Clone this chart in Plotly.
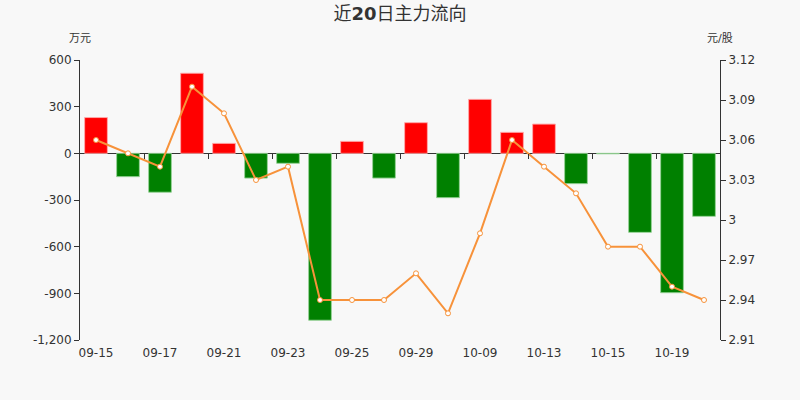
import plotly.graph_objects as go

dates = ["09-15", "09-16", "09-17", "09-18", "09-21", "09-22", "09-23", "09-24", "09-25", "09-28",
         "09-29", "09-30", "10-09", "10-12", "10-13", "10-14", "10-15", "10-16", "10-19", "10-20"]
main_flow = [230, -150, -250, 515, 64, -159, -64, -1073, 77, -159,
             197, -285, 347, 135, 188, -195, -3, -508, -896, -405]
price = [3.06, 3.05, 3.04, 3.10, 3.08, 3.03, 3.04, 2.94, 2.94, 2.94,
         2.96, 2.93, 2.99, 3.06, 3.04, 3.02, 2.98, 2.98, 2.95, 2.94]

y1_ticks = [600, 300, 0, -300, -600, -900, -1200]
y1_text = ["600", "300", "0", "-300", "-600", "-900", "-1,200"]
y2_ticks = [3.12, 3.09, 3.06, 3.03, 3.00, 2.97, 2.94, 2.91]
y2_text = ["3.12", "3.09", "3.06", "3.03", "3", "2.97", "2.94", "2.91"]

FONT = "DejaVu Sans, Noto Sans CJK SC, sans-serif"
AX = "#333333"

bar_colors = ["#ff0000" if v >= 0 else "#008000" for v in main_flow]
bar_lines = ["rgba(255,170,170,0.9)" if v >= 0 else "rgba(150,210,150,0.9)" for v in main_flow]

n = len(dates)
y1min, y1max = min(y1_ticks), max(y1_ticks)
zero_pos = (0 - y1min) / (y1max - y1min)

fig = go.Figure()
fig.add_trace(go.Bar(x=dates, y=main_flow, marker=dict(color=bar_colors, line=dict(color=bar_lines, width=1)),
                     yaxis="y", xaxis="x", showlegend=False))
fig.add_trace(go.Scatter(x=dates, y=price, yaxis="y2", xaxis="x", mode="lines+markers",
                         line=dict(color="#f7923a", width=2),
                         marker=dict(symbol="circle", size=5, color="#ffffff",
                                     line=dict(color="#f7923a", width=1)),
                         showlegend=False))
# empty helper trace so the zero-line tick axis gets drawn
fig.add_trace(go.Scatter(x=[None], y=[None], xaxis="x2", yaxis="y", mode="markers",
                         hoverinfo="skip", showlegend=False))

fig.update_layout(
    width=800, height=400,
    margin=dict(l=80, r=80, t=60, b=60),
    paper_bgcolor="#f8f8f8", plot_bgcolor="#f8f8f8",
    font=dict(family=FONT, size=12, color=AX),
    bargap=0.29,
    title=dict(text="近<b>20</b>日主力流向", x=0.5, xanchor="center", y=0.965, yanchor="middle",
               font=dict(size=18, color=AX, family=FONT)),
    xaxis=dict(type="category", range=[-0.5, n - 0.5], tickmode="array", tickvals=dates[::2],
               ticks="", showline=False, showgrid=False, zeroline=False,
               ticklabelstandoff=4, tickfont=dict(size=12, color=AX)),
    xaxis2=dict(type="linear", overlaying="x", anchor="free", position=zero_pos, side="bottom",
                range=[-0.5, n - 0.5],
                tickmode="array", tickvals=[i + 0.5 for i in range(1, n - 1, 2)],
                ticks="outside", ticklen=5, tickcolor=AX, showticklabels=False,
                showline=False, showgrid=False, zeroline=False),
    yaxis=dict(range=[y1min, y1max], tickmode="array", tickvals=y1_ticks, ticktext=y1_text,
               showline=True, linecolor=AX, linewidth=1, ticks="outside", ticklen=5, tickcolor=AX,
               showgrid=False, zeroline=True, zerolinecolor=AX, zerolinewidth=1,
               tickfont=dict(size=12, color=AX)),
    yaxis2=dict(range=[min(y2_ticks), max(y2_ticks)], overlaying="y", side="right",
                tickmode="array", tickvals=y2_ticks, ticktext=y2_text,
                showline=True, linecolor=AX, linewidth=1, ticks="outside", ticklen=5, tickcolor=AX,
                showgrid=False, zeroline=False, tickfont=dict(size=12, color=AX)),
)
fig.add_annotation(text="万元", xref="paper", yref="paper", x=0.0, y=1 + 22 / 280,
                   xanchor="center", yanchor="middle", showarrow=False, font=dict(size=11, color=AX))
fig.add_annotation(text="元/股", xref="paper", yref="paper", x=1.0, y=1 + 22 / 280,
                   xanchor="center", yanchor="middle", showarrow=False, font=dict(size=11, color=AX))

fig.write_html("out.html")
